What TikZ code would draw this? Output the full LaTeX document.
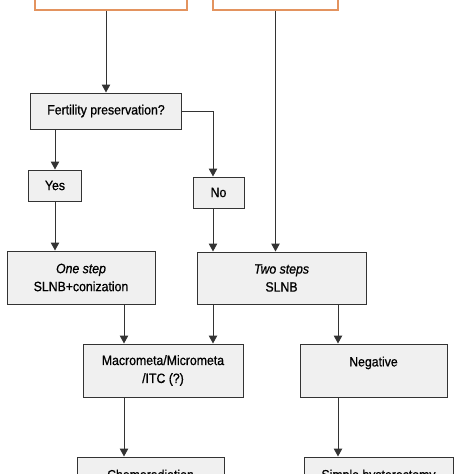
\documentclass[tikz,border=0pt]{standalone}
\usepackage{fontspec}
\setmainfont{Liberation Sans}[FakeStretch=0.91, FakeBold=0.8]
\usepackage{xcolor}
\usetikzlibrary{
	arrows.meta,
	calc,
	positioning
}
\definecolor{boxgray}{HTML}{F0F0F0}
\definecolor{edgegray}{HTML}{333333}
\definecolor{topor}{HTML}{E3935F}
\tikzset{
	flowbox/.style={draw=edgegray, line width=1pt, fill=boxgray, align=center, inner sep=0pt,
		font=\fontsize{13.5}{18}\selectfont},
	topbox/.style={draw=topor, line width=1.2pt, fill=white, inner sep=0pt},
	arr/.style={draw=edgegray, line width=1pt, -{Triangle[width=8.5pt,length=8pt]}}
}
\begin{document}
\begin{tikzpicture}[x=1pt,y=-1pt]
		\useasboundingbox (0,0) rectangle (474,474);
		% orange boxes at the top (cut off)
		\node[topbox, minimum width=152pt, minimum height=60pt] (topL) at (111,-20) {};
		\node[topbox, minimum width=125pt, minimum height=60pt] (topR) at (275.5,-20) {};
		% vertical lines shared by several connectors
		\coordinate (nox) at (213,0);
		\coordinate (mx) at (124,0);
		\coordinate (nx) at (338,0);
		\node[flowbox, minimum width=151pt, minimum height=36pt] (fert) at (106,111) {Fertility preservation?};
		\node[flowbox, minimum width=53pt, minimum height=31pt] (yes) at (55,185.5) {Yes};
		\node[flowbox, minimum width=51pt, minimum height=31pt] (no) at (218.5,192.5) {No};
		\node[flowbox, minimum width=148pt, minimum height=53pt] (one) at (81,277.5) {\textit{One step}\\SLNB+conization};
		\node[flowbox, minimum width=169pt, minimum height=52pt] (two) at (281.5,278) {\textit{Two steps}\\SLNB};
		\node[flowbox, minimum width=160pt, minimum height=53pt] (macro) at (163,370.5) {Macrometa/Micrometa\\/ITC (?)};
		\node[flowbox, minimum width=147pt, minimum height=53pt] (neg) at (373.5,370.5) {Negative\\\mbox{}};
		\node[flowbox, minimum width=147pt, minimum height=53pt] (chemo) at (150.5,483.5) {Chemoradiation\\\mbox{}};
		\node[flowbox, minimum width=149pt, minimum height=53pt] (simple) at (378.5,483.5) {Simple hysterectomy\\\mbox{}};
		% connectors
		\draw[arr] (fert.north |- topL.south) -- (fert.north);
		\draw[arr] (yes.north |- fert.south) -- (yes.north);
		\draw[arr] (fert.east) -| (no.north -| nox);
		\draw[arr] (topR.south) -- (topR.south |- two.north);
		\draw[arr] (yes.south) -- (yes.south |- one.north);
		\draw[arr] (no.south -| nox) -- (two.north -| nox);
		\draw[arr] (one.south -| mx) -- (macro.north -| mx);
		\draw[arr] (two.south -| nox) -- (macro.north -| nox);
		\draw[arr] (two.south -| nx) -- (neg.north -| nx);
		\draw[arr] (macro.south -| mx) -- (chemo.north -| mx);
		\draw[arr] (neg.south -| nx) -- (simple.north -| nx);
	\end{tikzpicture}
\end{document}
